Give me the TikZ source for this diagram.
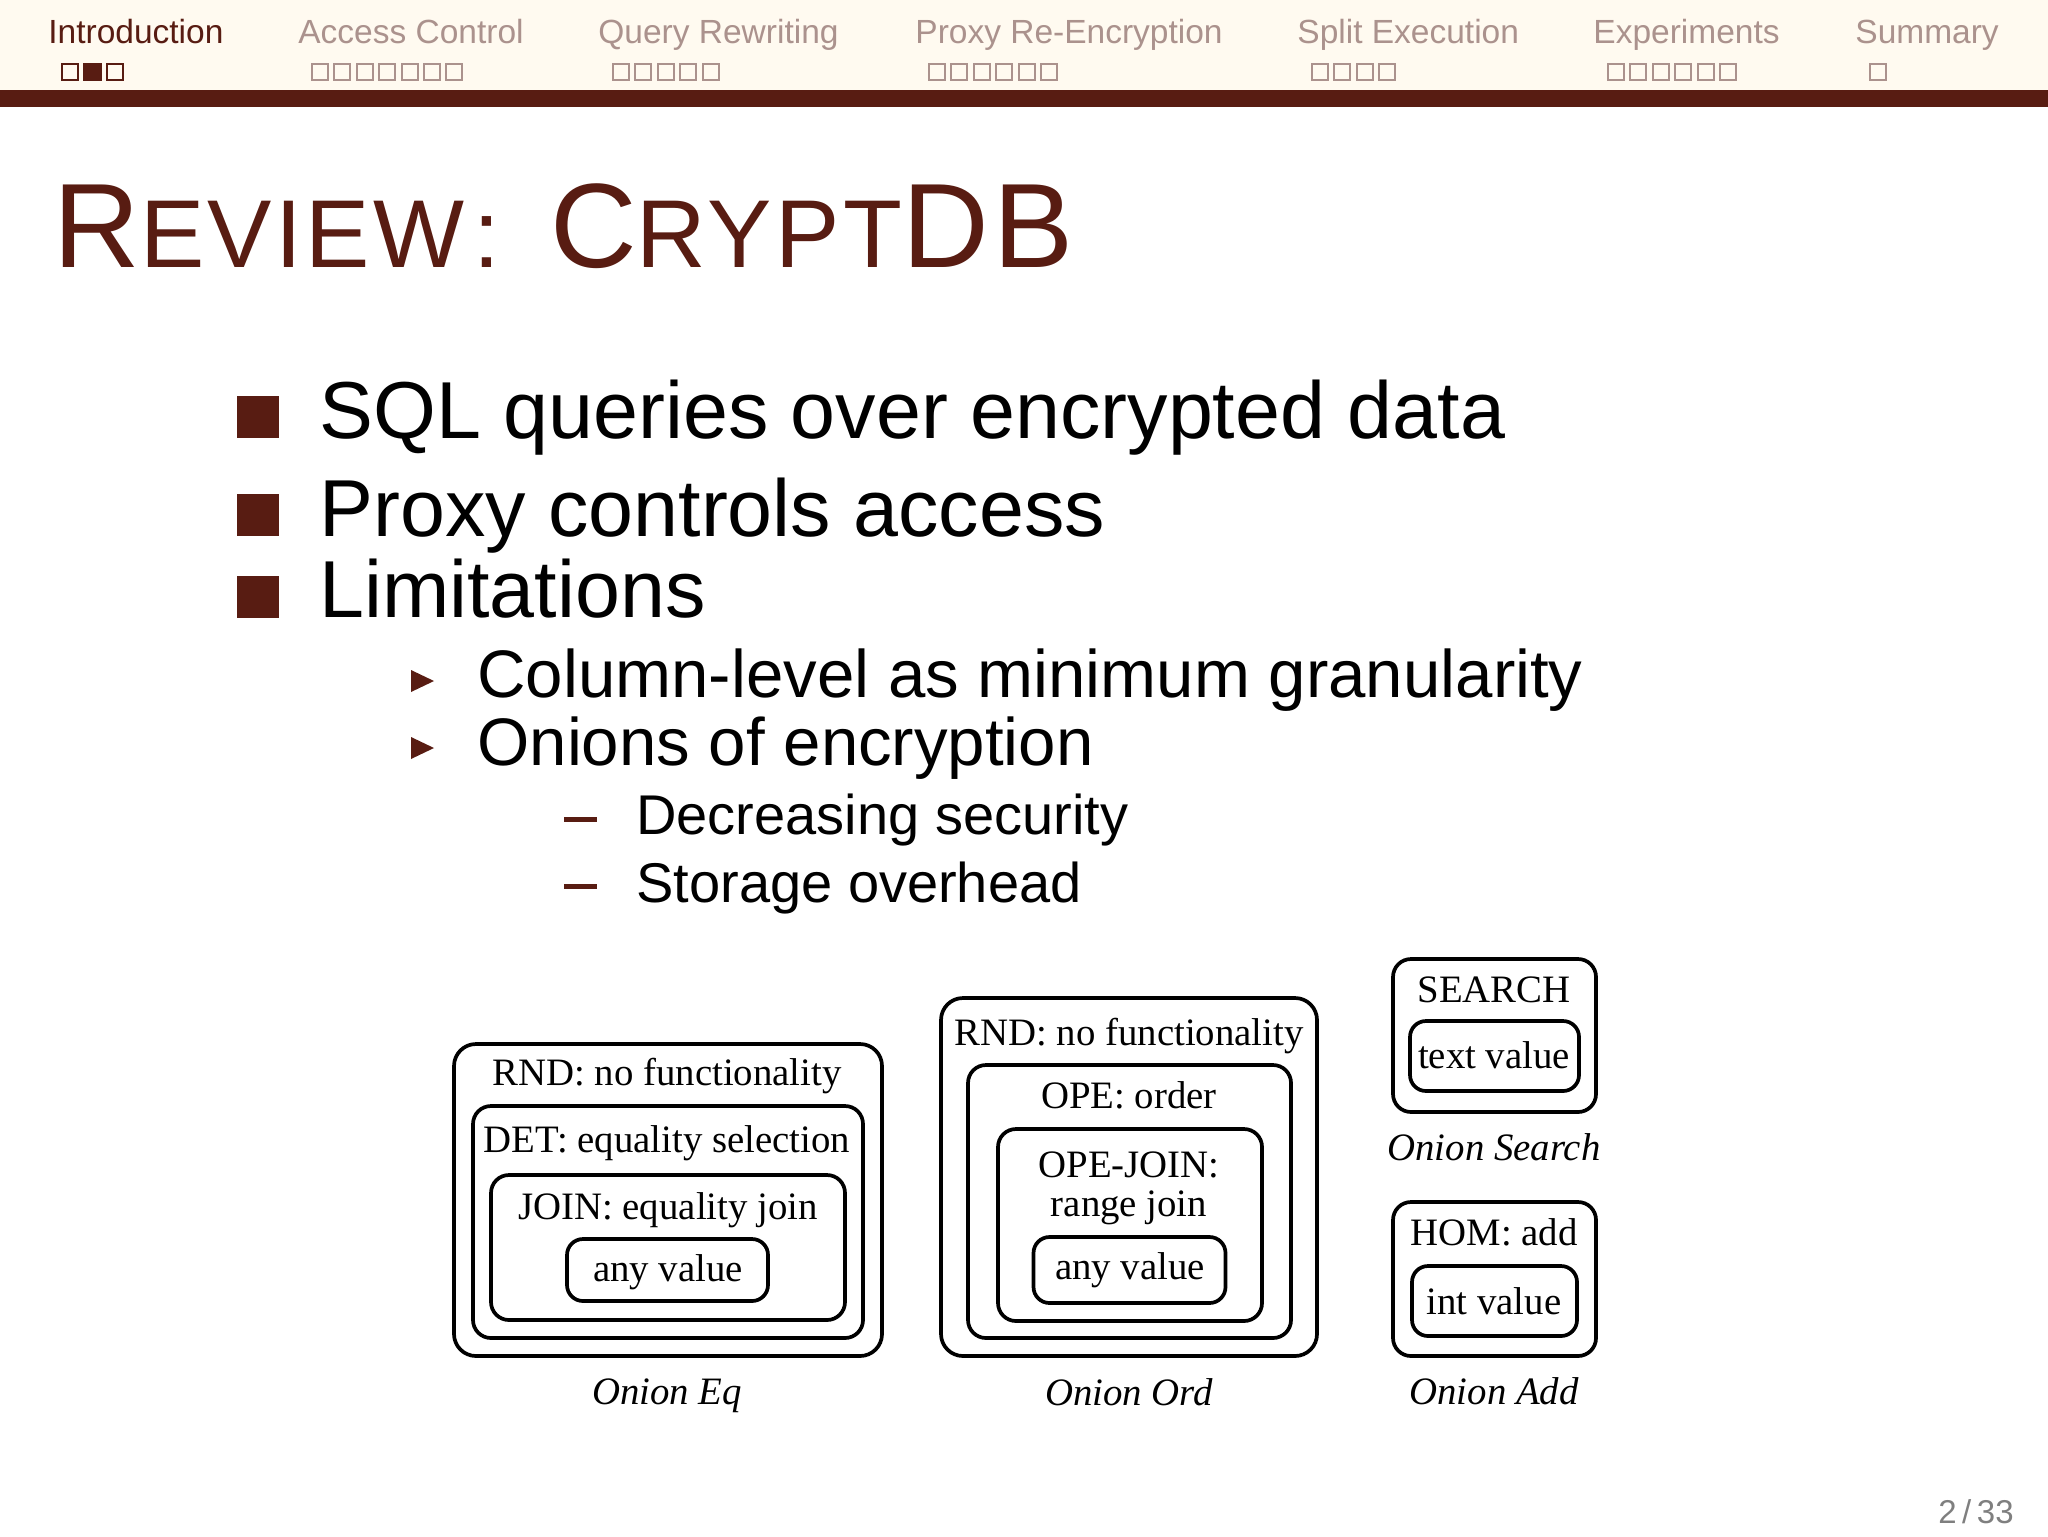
\documentclass[tikz,border=0pt]{standalone}
\usepackage{fontspec}
\setmainfont{Liberation Sans}
\newfontfamily\figfont{Liberation Serif}
\newfontfamily\titlefont[LetterSpace=3.5]{Liberation Sans}
\usepackage{tikz}
\usetikzlibrary{positioning}
\definecolor{barbrown}{HTML}{581C12}
\definecolor{navcream}{HTML}{FFFAF0}
\definecolor{navgrey}{HTML}{AB928D}
\definecolor{pagegrey}{HTML}{7F7F7F}

\tikzset{
  navlabel/.style={anchor=base west, inner sep=0, text=navgrey, font=\fontsize{16.75}{18}\selectfont},
  level1/.style={anchor=base west, inner sep=0, font=\fontsize{40.4}{44}\selectfont},
  level2/.style={anchor=base west, inner sep=0, font=\fontsize{33.6}{36}\selectfont},
  level3/.style={anchor=base west, inner sep=0, font=\fontsize{28}{30}\selectfont},
  sqbullet/.style={fill=barbrown, inner sep=0, minimum size=21pt},
  figlabel/.style={anchor=base, inner sep=0, font=\figfont\fontsize{19.4}{20}\selectfont},
  figcaption/.style={figlabel, font=\figfont\itshape\fontsize{19.4}{20}\selectfont},
  outerbox/.style={draw, line width=1.85pt, rounded corners=11pt},
  midbox/.style={draw, line width=1.85pt, rounded corners=9pt},
  innerbox/.style={draw, line width=1.85pt, rounded corners=8pt}
}

% small squares of the navigation bar, #1 = colour, #2 = x, #3 = count
\newcommand{\navsquares}[3]{
  \foreach \i in {1,...,#3}
    \draw[#1, line width=1pt] ({#2+(\i-1)*22.4},64) rectangle ++(16,16);
}

\begin{document}
\begin{tikzpicture}[x=0.5pt, y=-0.5pt]
  \useasboundingbox (0,0) rectangle (2048,1536);

  % navigation bar
  \fill[navcream] (0,0) rectangle (2048,90);
  \fill[barbrown] (0,90) rectangle (2048,107);
  \node (navintro) [navlabel, text=barbrown] at (48,44) {Introduction};
  \node (navaccess) [navlabel] at (298,44) {Access Control};
  \node (navquery) [navlabel] at (598,44) {Query Rewriting};
  \node (navproxy) [navlabel] at (915,44) {Proxy Re-Encryption};
  \node (navsplit) [navlabel] at (1297,44) {Split Execution};
  \node (navexp) [navlabel] at (1593,44) {Experiments};
  \node (navsum) [navlabel] at (1855,44) {Summary};

  \navsquares{barbrown}{62}{3}
  \fill[barbrown] (84,63) rectangle ++(18,18);
  \navsquares{navgrey}{312}{7}
  \navsquares{navgrey}{613}{5}
  \navsquares{navgrey}{929}{6}
  \navsquares{navgrey}{1312}{4}
  \navsquares{navgrey}{1608}{6}
  \navsquares{navgrey}{1870}{1}

  % title
  \node (title) [anchor=base west, inner sep=0, text=barbrown] at (53,267)
    {\titlefont\fontsize{60}{60}\selectfont R\fontsize{48.2}{60}\selectfont EVIEW\hspace{4.5pt}:\hspace{10pt} \fontsize{60}{60}\selectfont C\fontsize{48.2}{60}\selectfont RYPT\fontsize{60}{60}\selectfont DB};

  % bullets
  \node (b1) [sqbullet] at (258,417) {};
  \node (b2) [sqbullet] at (258,515) {};
  \node (b3) [sqbullet] at (258,597) {};
  \node (sql) [level1] at (319,438) {SQL queries over encrypted data};
  \node (proxy) [level1] at (319,536) {Proxy controls access};
  \node (limits) [level1] at (319,617) {Limitations};

  \fill[barbrown] (411,670) -- (434,681) -- (411,692) -- cycle;
  \fill[barbrown] (411,737) -- (434,748) -- (411,759) -- cycle;
  \node (column) [level2] at (477,697) {Column-level as minimum granularity};
  \node (onions) [level2] at (477,765) {Onions of encryption};

  \fill[barbrown] (564,817) rectangle (597,822);
  \fill[barbrown] (564,884) rectangle (597,889);
  \node (decreasing) [level3] at (636,834) {Decreasing security};
  \node (storage) [level3] at (636,902) {Storage overhead};

  % onion eq
  \node (eqouter) [outerbox, minimum width=214pt, minimum height=156pt] at (668,1200) {};
  \node (eqdet) [midbox, minimum width=195pt, minimum height=116pt] at (668,1222) {};
  \node (eqjoin) [midbox, minimum width=177pt, minimum height=72.5pt] at (668,1247.5) {};
  \node (eqval) [innerbox, minimum width=100.5pt, minimum height=31pt] at (667.5,1270) {};
  \node (eqrnd) [figlabel] at (667,1085) {RND: no functionality};
  \node (eqdettxt) [figlabel] at (667,1152) {DET: equality selection};
  \node (eqjointxt) [figlabel] at (668,1219) {JOIN: equality join};
  \node (eqvaltxt) [figlabel] at (668,1281) {any value};
  \node (eqcap) [figcaption] at (667,1404) {Onion Eq};

  % onion ord
  \node (ordouter) [outerbox, minimum width=188pt, minimum height=179pt] at (1129,1177) {};
  \node (ordope) [midbox, minimum width=161.5pt, minimum height=136.5pt] at (1129.5,1201.5) {};
  \node (ordjoin) [midbox, minimum width=132pt, minimum height=96pt] at (1130,1225) {};
  \node (ordval) [innerbox, minimum width=96pt, minimum height=33pt] at (1129.5,1270) {};
  \node (ordrnd) [figlabel] at (1129,1045) {RND: no functionality};
  \node (ordopetxt) [figlabel] at (1129,1108) {OPE: order};
  \node (ordjointxt) [figlabel] at (1129,1177) {OPE-JOIN:};
  \node (ordrange) [figlabel] at (1129,1216) {range join};
  \node (ordvaltxt) [figlabel] at (1130,1279) {any value};
  \node (ordcap) [figcaption] at (1129,1405) {Onion Ord};

  % onion search
  \node (srchouter) [midbox, minimum width=101.5pt, minimum height=76.5pt] at (1494.5,1035.5) {};
  \node (srchval) [innerbox, minimum width=84.5pt, minimum height=35pt] at (1494.5,1056) {};
  \node (srchtxt) [figlabel] at (1494,1002) {SEARCH};
  \node (srchvaltxt) [figlabel] at (1494,1068) {text value};
  \node (srchcap) [figcaption] at (1494,1160) {Onion Search};

  % onion add
  \node (addouter) [midbox, minimum width=101.5pt, minimum height=77pt] at (1494.5,1279) {};
  \node (addval) [innerbox, minimum width=82.5pt, minimum height=35pt] at (1494.5,1301) {};
  \node (addtxt) [figlabel] at (1494,1245) {HOM: add};
  \node (addvaltxt) [figlabel] at (1494,1314) {int value};
  \node (addcap) [figcaption] at (1494,1404) {Onion Add};

  % page number
  \node (page) [anchor=base east, inner sep=0, text=pagegrey, font=\fontsize{16.5}{18}\selectfont] at (2014,1523) {2\,/\,33};
\end{tikzpicture}
\end{document}
